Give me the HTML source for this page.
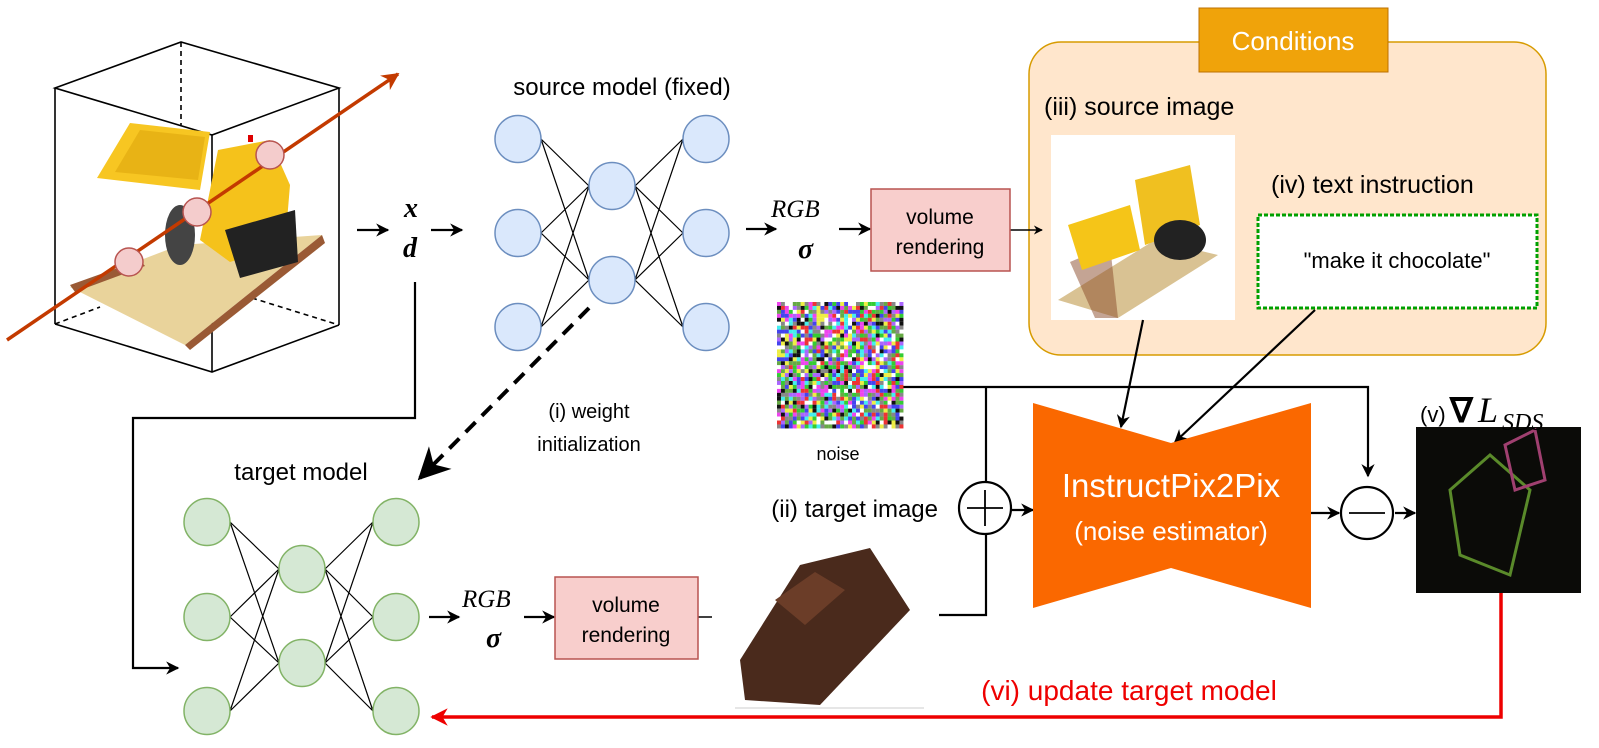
<!DOCTYPE html>
<html><head><meta charset="utf-8"><style>
html,body{margin:0;padding:0;background:#fff}
svg{display:block;font-family:"Liberation Sans",sans-serif}
</style></head><body>
<svg width="1599" height="748" viewBox="0 0 1599 748" xmlns="http://www.w3.org/2000/svg">
<defs>
<marker id="ah" viewBox="0 0 10 10" refX="9" refY="5" markerWidth="6" markerHeight="6" orient="auto"><path d="M0,0 L10,5 L0,10 L3,5z" fill="#000"/></marker>
<marker id="ahs" viewBox="0 0 10 10" refX="9" refY="5" markerWidth="8" markerHeight="8" orient="auto"><path d="M0,0 L10,5 L0,10 L3,5z" fill="#000"/></marker>
<marker id="ahr" viewBox="0 0 10 10" refX="9" refY="5" markerWidth="5" markerHeight="5" orient="auto"><path d="M0,0 L10,5 L0,10 L3,5z" fill="#e00"/></marker>
<marker id="aho" viewBox="0 0 10 10" refX="9" refY="5" markerWidth="5" markerHeight="5" orient="auto"><path d="M0,0 L10,5 L0,10 L3,5z" fill="#c33a00"/></marker>
</defs>

<!-- Conditions -->
<rect x="1029" y="42" width="517" height="313" rx="32" fill="#ffe6cc" stroke="#d79b00" stroke-width="1.5"/>
<rect x="1199" y="8" width="189" height="64" fill="#f0a30a" stroke="#bd7000"/>
<text x="1293" y="50" font-size="26" fill="#fff" text-anchor="middle">Conditions</text>
<text x="1044" y="115" font-size="25">(iii) source image</text>
<rect x="1051" y="135" width="184" height="185" fill="#fff"/>
<polygon points="1058,300 1155,240 1218,255 1118,318" fill="#d9c293"/>
<polygon points="1070,262 1110,245 1118,318 1095,318" fill="#8a4a2a" opacity="0.5"/>
<polygon points="1068,225 1130,205 1140,250 1082,270" fill="#f5c518"/>
<polygon points="1135,180 1190,165 1200,225 1145,245" fill="#f0c020"/>
<ellipse cx="1180" cy="240" rx="26" ry="20" fill="#222"/>
<text x="1271" y="193" font-size="25">(iv) text instruction</text>
<rect x="1258" y="215" width="279" height="93" fill="#fff" stroke="#00a000" stroke-width="3" stroke-dasharray="4 2"/>
<text x="1397" y="268" font-size="22" text-anchor="middle">"make it chocolate"</text>

<!-- cube -->
<g stroke="#000" stroke-width="1.6" fill="none">
<polygon points="55,88 181,42 339,88 212,135"/>
<line x1="55" y1="88" x2="55" y2="324"/>
<line x1="212" y1="135" x2="212" y2="372"/>
<line x1="339" y1="88" x2="339" y2="325"/>
<polyline points="55,324 212,372 339,325"/>
<g stroke-dasharray="5 4"><line x1="181" y1="42" x2="181" y2="125"/><line x1="55" y1="324" x2="100" y2="307"/><line x1="252" y1="298" x2="339" y2="325"/></g>
</g>
<!-- lego -->
<polygon points="70,287 180,245 322,235 185,345" fill="#e9d39b"/>
<polygon points="70,285 140,260 145,266 75,292" fill="#9a5a35"/>
<polygon points="185,345 322,235 325,243 190,350" fill="#9a5a35"/>
<polygon points="130,123 210,132 200,190 97,178" fill="#f7c622"/>
<polygon points="140,130 205,137 198,180 115,172" fill="#e8b315"/>
<polygon points="218,150 270,140 290,185 285,245 230,262 200,240" fill="#f5c21b"/>
<polygon points="225,230 295,210 298,262 240,278" fill="#222"/>
<ellipse cx="180" cy="235" rx="15" ry="30" fill="#444"/>
<rect x="248" y="135" width="5" height="7" fill="#d00"/>
<line x1="7" y1="340" x2="398" y2="74" stroke="#c33a00" stroke-width="3.5" marker-end="url(#aho)"/>
<g fill="#f4cccc" stroke="#b85450" stroke-width="1.5">
<circle cx="270" cy="155" r="14"/><circle cx="197" cy="212" r="14"/><circle cx="129" cy="262" r="14"/></g>

<!-- math labels -->
<g font-family="'Liberation Serif',serif" font-style="italic" font-weight="bold" font-size="28">
<text x="404" y="217">x</text><text x="403" y="257">d</text>
<text x="771" y="217" font-size="25" font-weight="normal">RGB</text><text x="798" y="258">σ</text>
<text x="462" y="607" font-size="25" font-weight="normal">RGB</text><text x="486" y="647">σ</text>
</g>
<g stroke="#000" stroke-width="2.2" fill="none" marker-end="url(#ah)">
<line x1="357" y1="230" x2="388" y2="230"/>
<line x1="431" y1="230" x2="462" y2="230"/>
<line x1="746" y1="229" x2="776" y2="229"/>
<line x1="839" y1="229" x2="870" y2="229"/>
<line x1="429" y1="617" x2="459" y2="617"/>
<line x1="524" y1="617" x2="554" y2="617"/>
<polyline points="415,282 415,418 133,418 133,668 178,668"/>
<line x1="1012" y1="510" x2="1033" y2="510"/>
<polyline points="903,387 1368,387 1368,476"/>
<line x1="1311" y1="513" x2="1339" y2="513"/>
<line x1="1395" y1="513" x2="1415" y2="513"/>
<line x1="1143" y1="320" x2="1121" y2="427"/>
<line x1="1315" y1="310" x2="1175" y2="442"/>
</g>
<line x1="589" y1="308" x2="420" y2="478" stroke="#000" stroke-width="4" stroke-dasharray="14 9" marker-end="url(#ahs)"/>
<line x1="1010" y1="230" x2="1042" y2="230" stroke="#000" stroke-width="1.5" marker-end="url(#ah)"/>
<line x1="698" y1="617" x2="712" y2="617" stroke="#000" stroke-width="1.5"/>
<polyline points="986,387 986,481" stroke="#000" stroke-width="2.2" fill="none"/>
<polyline points="986,535 986,615 939,615" stroke="#000" stroke-width="2.2" fill="none"/>

<!-- NN edges -->
<g stroke="#000" stroke-width="1.2">
<path d="M541,139L589,186M541,139L589,280M541,233L589,186M541,233L589,280M541,327L589,186M541,327L589,280M635,186L683,139M635,186L683,233M635,186L683,327M635,280L683,139M635,280L683,233M635,280L683,327"/>
<path d="M230,522L279,569M230,522L279,663M230,617L279,569M230,617L279,663M230,711L279,569M230,711L279,663M325,569L373,522M325,569L373,617M325,569L373,711M325,663L373,522M325,663L373,617M325,663L373,711"/>
</g>
<g fill="#dae8fc" stroke="#6c8ebf" stroke-width="1.5">
<ellipse cx="518" cy="139" rx="23" ry="23.5"/><ellipse cx="518" cy="233" rx="23" ry="23.5"/><ellipse cx="518" cy="327" rx="23" ry="23.5"/>
<ellipse cx="612" cy="186" rx="23" ry="23.5"/><ellipse cx="612" cy="280" rx="23" ry="23.5"/>
<ellipse cx="706" cy="139" rx="23" ry="23.5"/><ellipse cx="706" cy="233" rx="23" ry="23.5"/><ellipse cx="706" cy="327" rx="23" ry="23.5"/>
</g>
<g fill="#d5e8d4" stroke="#82b366" stroke-width="1.5">
<ellipse cx="207" cy="522" rx="23" ry="23.5"/><ellipse cx="207" cy="617" rx="23" ry="23.5"/><ellipse cx="207" cy="711" rx="23" ry="23.5"/>
<ellipse cx="302" cy="569" rx="23" ry="23.5"/><ellipse cx="302" cy="663" rx="23" ry="23.5"/>
<ellipse cx="396" cy="522" rx="23" ry="23.5"/><ellipse cx="396" cy="617" rx="23" ry="23.5"/><ellipse cx="396" cy="711" rx="23" ry="23.5"/>
</g>
<text x="622" y="95" font-size="24" text-anchor="middle">source model (fixed)</text>
<text x="301" y="480" font-size="24" text-anchor="middle">target model</text>
<text x="589" y="418" font-size="20" text-anchor="middle">(i) weight</text>
<text x="589" y="451" font-size="20" text-anchor="middle">initialization</text>

<rect x="871" y="189" width="139" height="82" fill="#f8cecc" stroke="#b85450" stroke-width="1.5"/>
<text x="940" y="224" font-size="21" text-anchor="middle">volume</text><text x="940" y="254" font-size="21" text-anchor="middle">rendering</text>
<rect x="555" y="577" width="143" height="82" fill="#f8cecc" stroke="#b85450" stroke-width="1.5"/>
<text x="626" y="612" font-size="21" text-anchor="middle">volume</text><text x="626" y="642" font-size="21" text-anchor="middle">rendering</text>

<!-- noise -->
<g id="noise"></g>
<text x="838" y="460" font-size="18" text-anchor="middle">noise</text>
<text x="938" y="517" font-size="24" text-anchor="end">(ii) target image</text>
<!-- chocolate -->
<polygon points="740,660 800,565 870,548 910,610 820,705 745,700" fill="#4a2a1c"/>
<polygon points="775,600 815,572 845,590 805,625" fill="#6b3d28"/>
<line x1="735" y1="708" x2="924" y2="708" stroke="#ccc"/>

<!-- plus / minus -->
<circle cx="985" cy="508" r="26" fill="#fff" stroke="#000" stroke-width="2.2"/>
<path d="M967,508H1003M985,490V526" stroke="#000" stroke-width="1.8"/>
<circle cx="1367" cy="513" r="26" fill="#fff" stroke="#000" stroke-width="2.2"/>
<path d="M1349,513H1385" stroke="#000" stroke-width="1.8"/>

<!-- bowtie -->
<polygon points="1033,403 1171,443 1311,403 1311,608 1171,568 1033,608" fill="#fa6800"/>
<text x="1171" y="497" font-size="33" fill="#fff" text-anchor="middle">InstructPix2Pix</text>
<text x="1171" y="540" font-size="26" fill="#fff" text-anchor="middle">(noise estimator)</text>

<!-- SDS -->
<rect x="1416" y="427" width="165" height="166" fill="#0b0b08"/>
<polygon points="1450,490 1490,455 1530,490 1510,575 1460,555" fill="none" stroke="#5a8a2a" stroke-width="3"/>
<polygon points="1505,445 1535,430 1545,480 1515,490" fill="none" stroke="#a04070" stroke-width="3"/>
<text x="1420" y="422" font-size="22">(v)</text>
<text x="1450" y="422" font-size="34" font-family="'Liberation Serif',serif" font-weight="bold">∇</text>
<text x="1478" y="422" font-size="36" font-family="'Liberation Serif',serif" font-style="italic">L</text>
<text x="1502" y="430" font-size="24" font-family="'Liberation Serif',serif" font-style="italic">SDS</text>

<polyline points="1501,593 1501,717 432,717" fill="none" stroke="#e00" stroke-width="3.5" marker-end="url(#ahr)"/>
<text x="1129" y="700" font-size="28" fill="#e00" text-anchor="middle">(vi) update target model</text>
</svg>
<script>
(function(){var g=document.getElementById('noise'),h='',c=['#e33','#3c3','#44e','#ee4','#e4e','#4ee','#fff','#888','#a6f','#6a4','#111'];var s=7;
for(var y=0;y<32;y++)for(var x=0;x<32;x++){s=(s*16807)%2147483647;h+='<rect x="'+(777+x*3.95)+'" y="'+(302+y*3.95)+'" width="4" height="4" fill="'+c[s%11]+'"/>';}
g.innerHTML=h;})();
</script>
</body></html>
